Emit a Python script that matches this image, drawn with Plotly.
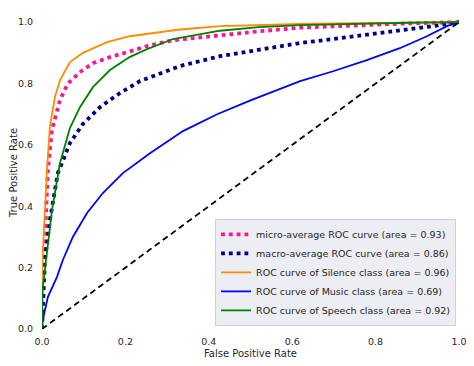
import plotly.graph_objects as go

# ---- data ----
micro_fpr = [0, 0, 0.007, 0.014, 0.024, 0.043, 0.062, 0.091, 0.122, 0.163, 0.204, 0.252, 0.314, 0.427, 0.52, 0.619, 0.75, 0.88, 1.0]
micro_tpr = [0, 0.15, 0.29, 0.518, 0.65, 0.746, 0.80, 0.837, 0.866, 0.886, 0.902, 0.922, 0.941, 0.958, 0.97, 0.982, 0.99, 0.996, 1.0]

macro_fpr = [0, 0.002, 0.007, 0.019, 0.038, 0.067, 0.098, 0.139, 0.187, 0.235, 0.331, 0.427, 0.523, 0.619, 0.70, 0.779, 0.86, 0.938, 1.0]
macro_tpr = [0, 0.06, 0.225, 0.355, 0.508, 0.606, 0.668, 0.723, 0.769, 0.808, 0.857, 0.889, 0.912, 0.932, 0.945, 0.958, 0.972, 0.987, 1.0]

silence_fpr = [0, 0, 0.002, 0.007, 0.012, 0.019, 0.031, 0.043, 0.067, 0.098, 0.156, 0.21, 0.26, 0.33, 0.427, 0.52, 0.619, 0.75, 0.88, 1.0]
silence_tpr = [0, 0.18, 0.25, 0.40, 0.52, 0.66, 0.756, 0.81, 0.87, 0.90, 0.935, 0.954, 0.964, 0.976, 0.987, 0.991, 0.994, 0.997, 0.999, 1.0]

music_fpr = [0, 0.002, 0.014, 0.036, 0.05, 0.074, 0.108, 0.146, 0.194, 0.259, 0.338, 0.42, 0.5, 0.619, 0.698, 0.779, 0.858, 0.923, 0.971, 0.995, 1.0]
music_tpr = [0, 0.03, 0.104, 0.17, 0.225, 0.30, 0.378, 0.443, 0.508, 0.573, 0.645, 0.70, 0.745, 0.808, 0.840, 0.876, 0.915, 0.954, 0.987, 0.997, 1.0]

speech_fpr = [0, 0, 0.002, 0.012, 0.024, 0.043, 0.067, 0.091, 0.122, 0.163, 0.21, 0.252, 0.314, 0.427, 0.52, 0.619, 0.75, 0.88, 1.0]
speech_tpr = [0, 0.05, 0.137, 0.247, 0.388, 0.54, 0.655, 0.723, 0.788, 0.844, 0.886, 0.912, 0.945, 0.972, 0.984, 0.990, 0.995, 0.998, 1.0]

chance = [0, 1]

labels = [
    "micro-average ROC curve (area = 0.93)",
    "macro-average ROC curve (area = 0.86)",
    "ROC curve of Silence class (area = 0.96)",
    "ROC curve of Music class (area = 0.69)",
    "ROC curve of Speech class (area = 0.92)",
]
tick_vals = [0.0, 0.2, 0.4, 0.6, 0.8, 1.0]
tick_text = ["0.0", "0.2", "0.4", "0.6", "0.8", "1.0"]

fig = go.Figure()
fig.add_trace(go.Scatter(x=micro_fpr, y=micro_tpr, mode="lines", name=labels[0],
                         line=dict(color="deeppink", width=3.8, dash="3.8px,4px")))
fig.add_trace(go.Scatter(x=macro_fpr, y=macro_tpr, mode="lines", name=labels[1],
                         line=dict(color="navy", width=3.8, dash="3.8px,4px")))
fig.add_trace(go.Scatter(x=silence_fpr, y=silence_tpr, mode="lines", name=labels[2],
                         line=dict(color="darkorange", width=1.8)))
fig.add_trace(go.Scatter(x=music_fpr, y=music_tpr, mode="lines", name=labels[3],
                         line=dict(color="blue", width=1.8)))
fig.add_trace(go.Scatter(x=speech_fpr, y=speech_tpr, mode="lines", name=labels[4],
                         line=dict(color="green", width=1.8)))
fig.add_trace(go.Scatter(x=chance, y=chance, mode="lines", showlegend=False,
                         line=dict(color="black", width=1.8, dash="6px,4px")))

axis_common = dict(showgrid=False, zeroline=False, showline=False, ticks="",
                   automargin=False,
                   tickvals=tick_vals, ticktext=tick_text,
                   tickfont=dict(family="DejaVu Sans", size=9.5, color="#262626"),
                   title_font=dict(family="DejaVu Sans", size=10, color="#262626"))

fig.update_layout(
    width=474, height=366,
    margin=dict(l=34, r=23, t=8, b=45),
    paper_bgcolor="white", plot_bgcolor="white",
    font=dict(family="DejaVu Sans", color="#262626"),
    xaxis=dict(range=[0, 1], ticklabelstandoff=5,
               title=dict(text="False Positive Rate", standoff=4), **axis_common),
    yaxis=dict(range=[0, 1.02], ticklabelstandoff=8,
               title=dict(text="True Positive Rate", standoff=8), **axis_common),
    legend=dict(x=0.993, y=0.01, xanchor="right", yanchor="bottom",
                bgcolor="rgba(234,234,242,0.85)", bordercolor="#d0d0d8", borderwidth=1,
                font=dict(family="DejaVu Sans", size=9.5, color="#262626"),
                tracegroupgap=0, itemwidth=30),
    showlegend=True,
)

fig.write_html("out.html")
